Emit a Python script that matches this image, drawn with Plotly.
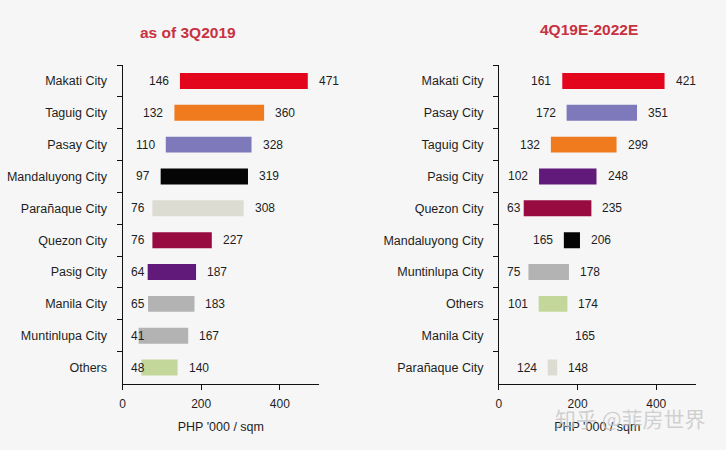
import plotly.graph_objects as go

# ---- data ----
left_title = "as of 3Q2019"
left_cities = ["Makati City", "Taguig City", "Pasay City", "Mandaluyong City", "Parañaque City",
               "Quezon City", "Pasig City", "Manila City", "Muntinlupa City", "Others"]
left_low = [146, 132, 110, 97, 76, 76, 64, 65, 41, 48]
left_high = [471, 360, 328, 319, 308, 227, 187, 183, 167, 140]

right_title = "4Q19E-2022E"
right_cities = ["Makati City", "Pasay City", "Taguig City", "Pasig City", "Quezon City",
                "Mandaluyong City", "Muntinlupa City", "Others", "Manila City", "Parañaque City"]
right_low = [161, 172, 132, 102, 63, 165, 75, 101, None, 124]
right_high = [421, 351, 299, 248, 235, 206, 178, 174, 165, 148]

x_ticks = [0, 200, 400]
x_title = "PHP '000 / sqm"

city_colors = {
    "Makati City": "#e3051b",
    "Taguig City": "#f07a1e",
    "Pasay City": "#7d79bb",
    "Mandaluyong City": "#050505",
    "Parañaque City": "#dcdcd3",
    "Quezon City": "#980b40",
    "Pasig City": "#611a79",
    "Manila City": "#b3b3b3",
    "Muntinlupa City": "#b3b3b3",
    "Others": "#c4d79a",
}

BG = "#f6f6f6"
TXT = "#1e1e1e"
FONT = "Arial, Liberation Sans, sans-serif"
X_MAX = 500
PLOT_W = 197.5  # px width of each panel's x-axis

fig = go.Figure()
annotations = []


def add_panel(cities, lows, highs, xa, ya):
    bases, widths, cols, ys = [], [], [], []
    for c, lo, hi in zip(cities, lows, highs):
        if lo is not None:
            bases.append(lo)
            widths.append(hi - lo)
            cols.append(city_colors[c])
            ys.append(c)
    fig.add_trace(go.Bar(
        y=ys, x=widths, base=bases, orientation="h",
        marker=dict(color=cols, line=dict(width=0)), width=0.5,
        xaxis=xa, yaxis=ya, showlegend=False, hoverinfo="skip",
    ))
    for c, lo, hi in zip(cities, lows, highs):
        if lo is not None:
            px = lo * PLOT_W / X_MAX
            if px - 10 - 14 < 10:
                # label would collide with the axis: keep it just right of the axis
                annotations.append(dict(x=0, y=c, xref=xa, yref=ya, text=str(lo),
                                        showarrow=False, xanchor="left", xshift=6,
                                        font=dict(size=12, color=TXT, family=FONT)))
            else:
                annotations.append(dict(x=lo, y=c, xref=xa, yref=ya, text=str(lo),
                                        showarrow=False, xanchor="right", xshift=-9,
                                        font=dict(size=12, color=TXT, family=FONT)))
        annotations.append(dict(x=hi, y=c, xref=xa, yref=ya, text=str(hi),
                                showarrow=False, xanchor="left", xshift=9,
                                font=dict(size=12, color=TXT, family=FONT)))


add_panel(left_cities, left_low, left_high, "x", "y")
add_panel(right_cities, right_low, right_high, "x2", "y2")

ydom = [1 - 383.5 / 450, 1 - 65 / 450]
xcommon = dict(range=[0, X_MAX], tickvals=x_ticks, ticks="outside", ticklen=5, tickwidth=1,
               tickcolor="#111", showline=True, linecolor="#111", linewidth=1,
               showgrid=False, zeroline=False, fixedrange=True, ticklabelstandoff=4,
               tickfont=dict(size=12, color=TXT, family=FONT),
               title=dict(text=x_title, font=dict(size=12.5, color=TXT, family=FONT), standoff=12))
ycommon = dict(type="category", tickson="boundaries", ticks="outside", ticklen=5, tickwidth=1,
               tickcolor="#111", showline=True, linecolor="#111", linewidth=1,
               showgrid=False, zeroline=False, autorange="reversed",
               tickfont=dict(size=12.5, color=TXT, family=FONT), ticklabelstandoff=12)

fig.update_layout(
    width=726, height=450,
    margin=dict(l=0, r=0, t=0, b=0),
    paper_bgcolor=BG, plot_bgcolor=BG,
    xaxis=dict(domain=[120 / 726, (120 + PLOT_W) / 726], anchor="y", **xcommon),
    yaxis=dict(domain=ydom, anchor="x", categoryorder="array", categoryarray=left_cities, **ycommon),
    xaxis2=dict(domain=[498 / 726, (498 + PLOT_W) / 726], anchor="y2", **xcommon),
    yaxis2=dict(domain=ydom, anchor="x2", categoryorder="array", categoryarray=right_cities, **ycommon),
)

annotations.append(dict(x=186 / 726, y=1 - 32 / 450, xref="paper", yref="paper", text="<b>" + left_title + "</b>",
                        xanchor="center", yanchor="middle",
                        showarrow=False, font=dict(size=15.5, color="#c8313f", family=FONT)))
annotations.append(dict(x=588 / 726, y=1 - 30 / 450, xref="paper", yref="paper", text="<b>" + right_title + "</b>",
                        xanchor="center", yanchor="middle",
                        showarrow=False, font=dict(size=15.5, color="#c8313f", family=FONT)))
annotations.append(dict(x=630 / 726, y=1 - 418 / 450, xref="paper", yref="paper", text="知乎 @菲房世界",
                        xanchor="center", yanchor="middle", showarrow=False,
                        font=dict(size=21, color="rgba(195,195,195,0.75)", family="Noto Sans CJK SC")))

fig.update_layout(annotations=annotations)
fig.write_html("out.html")
